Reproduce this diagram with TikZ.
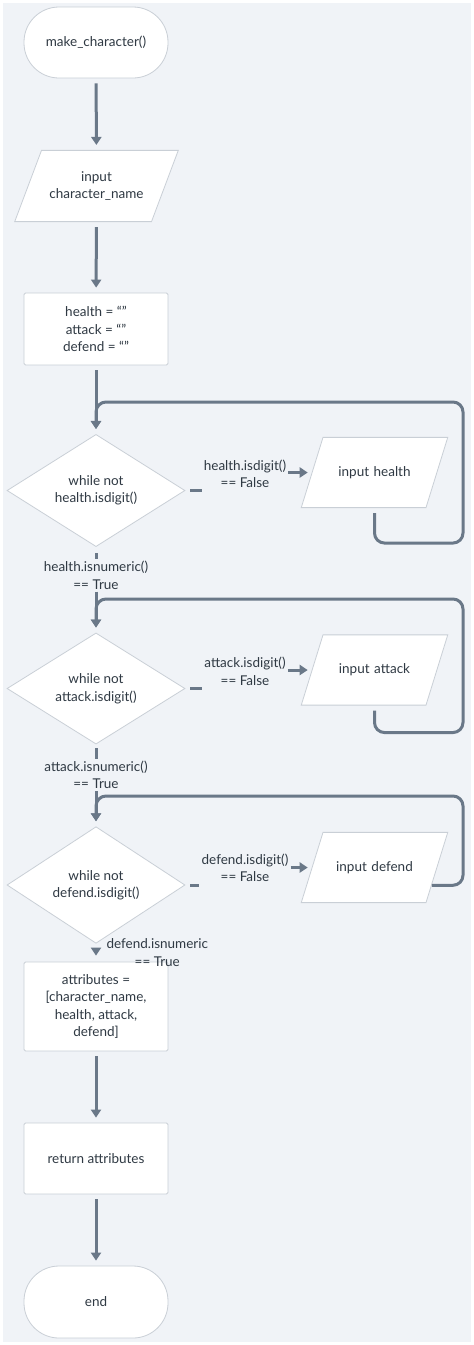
\documentclass[tikz,border=0pt]{standalone}
\usepackage{fontspec}
\setmainfont{Lato}
\usetikzlibrary{shapes.geometric,arrows.meta,calc}
\definecolor{bgc}{HTML}{F0F3F7}
\definecolor{edgec}{HTML}{C9CFD6}
\definecolor{linec}{HTML}{6A7888}
\definecolor{textc}{HTML}{2F3943}
\tikzset{
  base/.style={draw=edgec, fill=white, text=textc, line width=0.8pt, align=center,
    font=\fontsize{13.5}{17.5}\selectfont},
  terminal/.style={base, rectangle, rounded corners=35pt, minimum width=144pt, minimum height=71pt},
  process/.style={base, rectangle, rounded corners=1.5pt, minimum width=144pt, minimum height=72pt},
  io/.style={base, trapezium, trapezium left angle=72.8, trapezium right angle=107.2,
    inner xsep=2pt, text width=99pt, inner ysep=29pt},
  decision/.style={base, diamond, minimum width=178pt, minimum height=107pt, inner sep=0pt},
  lbl/.style={text=textc, align=center, inner sep=2pt, font=\fontsize{13.5}{17.5}\selectfont},
  link/.style={draw=linec, line width=3pt},
  flow/.style={link, shorten <=5pt, shorten >=5pt, -{Triangle[length=8pt,width=10pt]}},
}
\begin{document}
\begin{tikzpicture}[x=1pt, y=-1pt]
  \fill[white] (0,0) rectangle (474,1345);
  \fill[bgc] (3,3) rectangle (471,1342);
  % main column
  \node[terminal] (start) at (96,42.5) {make\_character()};
  \node[io, trapezium left angle=69.4, trapezium right angle=110.6, text width=106pt,
    inner ysep=21pt] (iname) at (96.5,186) {input\\character\_name};
  \node[process] (vars) at (96,329) {health = “”\\attack = “”\\defend = “”};
  \node[decision] (hd) at (96,490.5) {while not\\health.isdigit()};
  \node[decision] (ad) at (96,688.5) {while not\\attack.isdigit()};
  \node[decision] (dd) at (96,885) {while not\\defend.isdigit()};
  \node[process, minimum height=89pt] (attr) at (96,1006.5)
    {attributes =\\{[}character\_name,\\health, attack,\\defend{]}};
  \node[process, minimum height=71pt] (ret) at (96,1158.5) {return attributes};
  \node[terminal, minimum height=72pt] (stop) at (96,1302) {end};
  % input column
  \node[io] (ih) at (374.5,472.5) {input health};
  \node[io] (ia) at (374.5,670) {input attack};
  \node[io] (id) at (374.5,867.5) {input defend};
  % labels
  \node[lbl] (hlbl) at (245,474) {health.isdigit()\\== False};
  \node[lbl] (albl) at (245,671.5) {attack.isdigit()\\== False};
  \node[lbl] (dlbl) at (245,868) {defend.isdigit()\\== False};
  \node[lbl] (hnum) at (96,575.5) {health.isnumeric()\\== True};
  \node[lbl] (anum) at (96,775) {attack.isnumeric()\\== True};
  \coordinate (hloop) at (463,402);
  \coordinate (aloop) at (463,599);
  \coordinate (dloop) at (463,796);
  \coordinate (dout) at ($(id.bottom right corner)!0.25!(id.top right corner)$);

  \draw[flow] (start) -- (iname);
  \draw[flow] (iname) -- (vars);
  \draw[flow] (vars) -- (hd);
  % health loop
  \draw[link, shorten <=5pt] (hd.east) -- (hlbl.west |- hd.east);
  \draw[flow, shorten <=0pt, shorten >=4pt] (hlbl.east |- ih.west) -- (ih.west);
  \draw[flow, rounded corners=10pt] (ih.south) -- ++(0,35) -| (hloop) -| (hd.north);
  \draw[link, shorten <=6pt] (hd.south) -- (hnum.north);
  \draw[flow, shorten <=0pt] (hnum.south) -- (ad.north);
  % attack loop
  \draw[link, shorten <=5pt] (ad.east) -- (albl.west |- ad.east);
  \draw[flow, shorten <=0pt, shorten >=4pt] (albl.east |- ia.west) -- (ia.west);
  \draw[flow, rounded corners=10pt] (ia.south) -- ++(0,27) -| (aloop) -| (ad.north);
  \draw[link, shorten <=4pt] (ad.south) -- (anum.north);
  \draw[flow, shorten <=0pt] (anum.south) -- (dd.north);
  % defend loop
  \draw[link, shorten <=5pt] (dd.east) -- (dlbl.west |- dd.east);
  \draw[flow, shorten <=0pt, shorten >=4pt] (dlbl.east |- id.west) -- (id.west);
  \draw[flow, shorten <=0pt, rounded corners=10pt] (dout) -| (dloop) -| (dd.north);
  \draw[flow, shorten >=6pt] (dd.south) --
    node[lbl, right, xshift=7pt] (dnum) {defend.isnumeric\\== True} (attr.north);
  \draw[flow] (attr) -- (ret);
  \draw[flow] (ret) -- (stop);
\end{tikzpicture}
\end{document}
